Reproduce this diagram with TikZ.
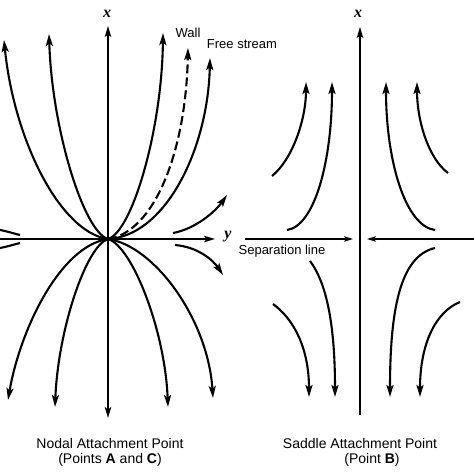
\documentclass[tikz,border=0pt]{standalone}
\usepackage{fontspec}
\setmainfont{Liberation Sans}
\newfontfamily\axisfont{Liberation Serif}
\usetikzlibrary{arrows.meta}
\usetikzlibrary{positioning}

\begin{document}
\begin{tikzpicture}
    [x=1pt, y=-1pt,
     sl/.style={line width=2.1pt, -{Stealth[length=12pt, width=7pt, inset=2.5pt]}},
     sln/.style={line width=2.1pt},
     ax/.style={line width=1.5pt},
     tip/.style={-{Stealth[length=11pt, width=6.5pt, inset=2.5pt]}},
     tiptip/.style={{Stealth[length=11pt, width=6.5pt, inset=2.5pt]}-{Stealth[length=11pt, width=6.5pt, inset=2.5pt]}},
     inn/.style={-{Stealth[length=9pt, width=5.5pt, inset=2pt]}},
     lbl/.style={font=\fontsize{13}{15}\selectfont, inner sep=0pt},
     captxt/.style={font=\fontsize{14}{16}\selectfont, inner sep=0pt},
     av/.style={font=\fontsize{16}{18}\selectfont\axisfont\bfseries\itshape, inner sep=0pt}]

    \useasboundingbox (0,0) rectangle (474,474);

    \coordinate (n0) at (108,239);
    \coordinate (s0) at (360,239);

    % nodal attachment point
    \draw [ax, tip] (0,239) -- (215,239);
    \draw [ax, tiptip] (108,418) -- (108,26);
    \node [av] (nx) at (107,14) {x};
    \node [av] (ny) at (228,237) {y};

    \draw [sl] (n0) .. controls (60,232) and (14,140) .. (4,40);
    \draw [sl] (n0) .. controls (84,232) and (52,130) .. (49,34);
    \draw [sl] (n0) .. controls (132,232) and (162,130) .. (163,33);
    \draw [sl, dash pattern=on 9pt off 4pt] (n0) .. controls (155,232) and (186,150) .. (188,48);
    \draw [sl] (n0) .. controls (165,236) and (208,150) .. (210,58);
    \draw [sl] (173,233) .. controls (195,229) and (215,212) .. (227,195);

    \draw [sl] (n0) .. controls (60,246) and (20,330) .. (8,400);
    \draw [sl] (n0) .. controls (86,246) and (58,330) .. (55,407);
    \draw [sl] (n0) .. controls (132,246) and (165,330) .. (168,407);
    \draw [sl] (n0) .. controls (155,246) and (208,320) .. (213,398);
    \draw [sl] (175,245) .. controls (198,247) and (213,260) .. (223,275);

    \draw [sln] (20,235) .. controls (12,233) and (6,231) .. (0,230);
    \draw [sln] (20,243) .. controls (12,245) and (6,247) .. (0,248);

    \node [lbl] (wall) at (188,33) {Wall};
    \node [lbl] (free) at (242,44) {Free stream};

    \node [captxt] (nodal) at (110,443) {Nodal Attachment Point};
    \node [captxt, below=5pt of nodal] (nodalpts) {(Points \textbf{A} and \textbf{C})};

    % saddle attachment point
    \draw [ax, tip] (360,415) -- (360,27);
    \node [av] (sx) at (358,14) {x};
    \draw [ax, inn] (245,239) -- (353,239);
    \draw [ax, inn] (474,239) -- (367,239);

    \draw [sl] (272,176) .. controls (292,160) and (306,120) .. (306,82);
    \draw [sl] (287,230) .. controls (315,226) and (332,160) .. (332,82);
    \draw [sl] (435,230) .. controls (405,226) and (386,160) .. (386,82);
    \draw [sl] (448,173) .. controls (428,158) and (417,120) .. (417,82);

    \draw [sl] (310,261) .. controls (328,285) and (335,330) .. (335,397);
    \draw [sl] (273,304) .. controls (295,320) and (309,350) .. (309,397);
    \draw [sl] (435,248) .. controls (400,256) and (390,310) .. (390,397);
    \draw [sl] (460,302) .. controls (435,312) and (420,345) .. (420,397);

    \node [lbl] (sep) at (282,251) {Separation line};

    \node [captxt] (saddle) at (360,443) {Saddle Attachment Point};
    \node [captxt, below=5pt of saddle, xshift=12pt] (saddlept) {(Point \textbf{B})};
\end{tikzpicture}
\end{document}
